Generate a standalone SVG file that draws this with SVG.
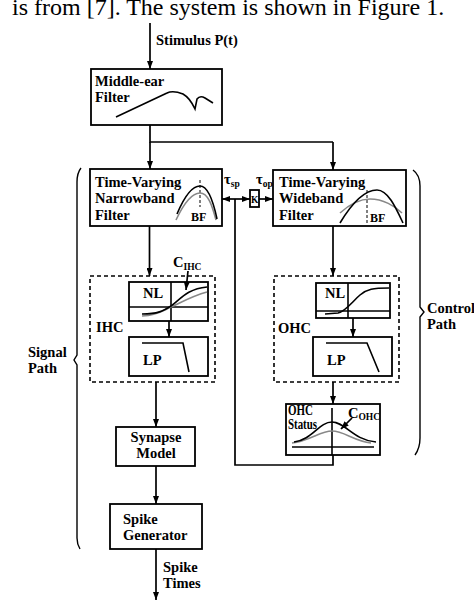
<svg xmlns="http://www.w3.org/2000/svg" width="474" height="601" viewBox="0 0 474 601">
<defs>
<marker id="ah" markerWidth="8" markerHeight="6" refX="8" refY="3" orient="auto" markerUnits="userSpaceOnUse">
<path d="M0,0 L8,3 L0,6 z" fill="#000"/>
</marker>
<style>
text{font-family:"Liberation Serif","Times New Roman",serif;fill:#000}
.b{font-weight:bold;font-size:14.5px}
.m{font-weight:bold;font-size:12px}
.s{font-weight:bold;font-size:9.5px}
.cap{font-size:24px}
.box{fill:#fff;stroke:#000;stroke-width:1.8}
.dbox{fill:none;stroke:#000;stroke-width:1.6;stroke-dasharray:4,3}
.ln{fill:none;stroke:#000;stroke-width:1.6}
.cv{fill:none;stroke:#000;stroke-width:1.6}
.gv{fill:none;stroke:#888;stroke-width:1.6}
.dl{fill:none;stroke:#000;stroke-width:1;stroke-dasharray:3,2}
.br{fill:none;stroke:#000;stroke-width:1.4}
.c{fill:none;stroke:#000;stroke-width:1.7}
.ca{fill:none;stroke:#000;stroke-width:1.7;marker-end:url(#ah)}
</style>
</defs>
<rect width="474" height="601" fill="#fff"/>
<text class="cap" x="12" y="15">is from [7]. The system is shown in Figure 1.</text>

<g id="connectors">
<path class="ca" d="M150,23 V69"/>
<path class="c" d="M150,125 V142 H333"/>
<path class="ca" d="M150,142 V169"/>
<path class="ca" d="M333,142 V170"/>
<path class="ca" d="M149.5,226 V276"/>
<path class="ca" d="M333,226 V276"/>
<path class="ca" d="M169,321 V337"/>
<path class="ca" d="M353,318 V337"/>
<path class="ca" d="M156,382 V427"/>
<path class="ca" d="M333,382 V404"/>
<path class="ca" d="M156,466 V504"/>
<path class="ca" d="M156,549 V600"/>
<path class="c" d="M333,455 V465 H235 V199"/>
<path class="ca" d="M235,199 H222"/>
<path class="ca" d="M235,199 H250"/>
<path class="ca" d="M259,199 H273"/>
</g>

<g id="stimulus-label">
<text class="b" x="156" y="45" font-size="14">Stimulus P(t)</text>
</g>

<g id="middle-ear">
<rect class="box" x="91" y="69" width="131" height="56"/>
<text class="b" x="95" y="86">Middle-ear</text>
<text class="b" x="95" y="102">Filter</text>
<path class="cv" d="M116,117 L167,93 Q173,90 183,94 Q190,98 195,109 L197,99 Q200,95 205,98 L213,103"/>
</g>

<g id="narrowband">
<rect class="box" x="90" y="169" width="132" height="57"/>
<text class="b" x="95" y="187">Time-Varying</text>
<text class="b" x="95" y="203">Narrowband</text>
<text class="b" x="95" y="220">Filter</text>
<path class="dl" d="M200,180 V207"/>
<path class="gv" d="M176,220 C184,203 192,193 200,193 C208,193 212,205 216,220"/>
<path class="cv" d="M177,214 C185,195 192,186 200,186 C208,186 213,200 217,219"/>
<text class="m" x="191" y="221">BF</text>
</g>

<g id="wideband">
<rect class="box" x="273" y="170" width="133" height="56"/>
<text class="b" x="279" y="187">Time-Varying</text>
<text class="b" x="279" y="203">Wideband</text>
<text class="b" x="279" y="220">Filter</text>
<path class="dl" d="M367,190 V224"/>
<path class="gv" d="M340,213 C350,204 360,199 370,199 C383,199 395,206 402,213"/>
<path class="cv" d="M340,223 C352,203 365,190 377,190 C388,190 396,208 403,223"/>
<text class="m" x="370" y="222">BF</text>
</g>

<g id="tau-k">
<text class="b" x="224" y="184" font-size="14">τ<tspan class="s" dy="3">sp</tspan></text>
<text class="b" x="256" y="184" font-size="14">τ<tspan class="s" dy="3">op</tspan></text>
<rect class="box" x="250" y="190" width="9" height="17" stroke-width="1.4"/>
<text class="s" x="251" y="203" font-size="10">K</text>
</g>

<g id="ihc">
<rect class="dbox" x="90" y="276" width="125" height="106"/>
<text class="b" x="96" y="332">IHC</text>
<rect class="box" x="129" y="282" width="79" height="39"/>
<path class="ln" d="M171,282 V321 M129,307 H208" stroke-width="1.4"/>
<text class="b" x="143" y="298" font-size="13">NL</text>
<path class="gv" d="M142,316 C158,315 164,310 171,307 C180,303 192,296 207,292"/>
<path class="cv" d="M142,314 C158,314 163,311 171,306 C180,300 186,289 207,287"/>
<text class="b" x="173" y="267" font-size="15">C<tspan class="s" dy="3">IHC</tspan></text>
<path class="ca" d="M188,271 L186,290" stroke-width="1.4"/>
<rect class="box" x="129" y="337" width="79" height="39"/>
<path class="cv" d="M142,343 H183 L189,372"/>
<text class="b" x="143" y="365" font-size="13">LP</text>
</g>

<g id="ohc">
<rect class="dbox" x="274" y="276" width="125" height="106"/>
<text class="b" x="278" y="333">OHC</text>
<rect class="box" x="316" y="283" width="74" height="35"/>
<path class="ln" d="M348,283 V318 M316,311 H390" stroke-width="1.4"/>
<text class="b" x="325" y="298" font-size="13">NL</text>
<path class="cv" d="M325,314 L338,313 C345,312 352,302 360,295 C367,289 373,288 389,288"/>
<rect class="box" x="313" y="337" width="79" height="39"/>
<path class="cv" d="M326,343 H367 L379,372"/>
<text class="b" x="327" y="365" font-size="13">LP</text>
</g>

<g id="ohc-status">
<rect class="box" x="286" y="404" width="94" height="51"/>
<text class="b" x="288" y="415" font-size="10" textLength="25" lengthAdjust="spacingAndGlyphs">OHC</text>
<text class="b" x="288" y="428.5" font-size="10" textLength="29" lengthAdjust="spacingAndGlyphs">Status</text>
<path class="ln" d="M332,408 V455 M292,447 H374" stroke-width="1.4"/>
<path class="gv" d="M292,443 C310,441 320,431 332,431 C344,431 354,441 371,443"/>
<path class="cv" d="M294,442 C312,440 319,422 332,422 C345,422 353,440 376,442"/>
<text class="b" x="348" y="418" font-size="15">C<tspan class="s" dy="2" font-size="9">OHC</tspan></text>
<path class="ca" d="M352,418 L341,429" stroke-width="1.4"/>
</g>

<g id="synapse">
<rect class="box" x="116" y="427" width="79" height="39"/>
<text class="b" x="156" y="442" text-anchor="middle">Synapse</text>
<text class="b" x="156" y="458" text-anchor="middle">Model</text>
</g>

<g id="spike-generator">
<rect class="box" x="110" y="504" width="92" height="45"/>
<text class="b" x="123" y="524">Spike</text>
<text class="b" x="123" y="540">Generator</text>
</g>

<g id="spike-times">
<text class="b" x="163" y="572">Spike</text>
<text class="b" x="163" y="588">Times</text>
</g>

<g id="signal-path">
<path class="br" d="M81,168 Q77,173 77,182 V355 L74,360 L77,365 V538 Q77,544 80,549"/>
<text class="b" x="28" y="357">Signal</text>
<text class="b" x="28" y="373">Path</text>
</g>

<g id="control-path">
<path class="br" d="M413,170 Q420,175 420,186 V307 L424,312 L420,317 V438 Q420,448 415,455"/>
<text class="b" x="427" y="313">Control</text>
<text class="b" x="427" y="329">Path</text>
</g>
</svg>
